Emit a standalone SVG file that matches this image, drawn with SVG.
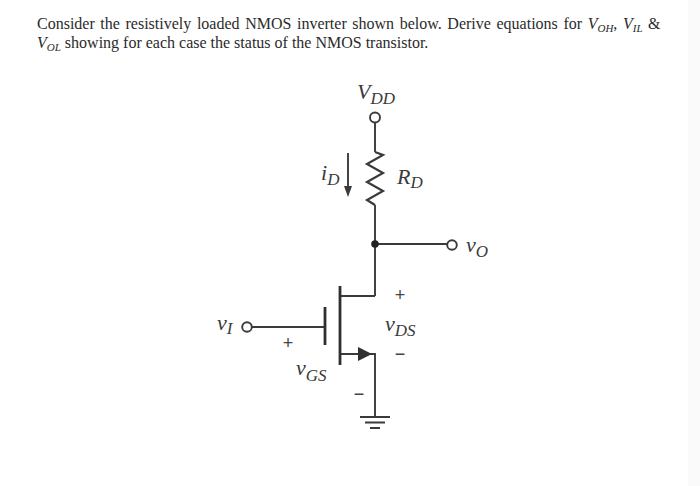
<svg xmlns="http://www.w3.org/2000/svg" width="700" height="486" viewBox="0 0 700 486">
<style>
.t{font-family:"Liberation Serif","Times New Roman",serif;fill:#2b2b2b}
.head{font-size:16px}
.i{font-style:italic}
.l{font-size:22px;font-style:italic;fill:#3a3a3a}
.s{font-size:17px;font-style:italic}
.hs{font-size:11px;font-style:italic}
.w{fill:none;stroke:#3a3a3a;stroke-width:1.9}
.r{fill:none;stroke:#3a3a3a;stroke-width:2.2}
.b{fill:none;stroke:#2f2f2f;stroke-width:2.8}
.o{fill:#fff;stroke:#3a3a3a;stroke-width:1.9}
.p{font-family:"Liberation Sans",Arial,sans-serif;font-size:18px;fill:#444;text-anchor:middle}
</style>
<rect width="700" height="486" fill="#fff"/>
<rect x="688" y="0" width="12" height="486" fill="#fafafa"/>
<g id="question">
<text class="t head" x="37" y="29" word-spacing="1.6">Consider the resistively loaded NMOS inverter shown below. Derive equations for <tspan class="i">V</tspan><tspan class="hs" dy="3">OH</tspan><tspan dy="-3">, </tspan><tspan class="i">V</tspan><tspan class="hs" dy="3">IL</tspan><tspan dy="-3"> &amp;</tspan></text>
<text class="t head" x="37" y="48"><tspan class="i">V</tspan><tspan class="hs" dy="3">OL</tspan><tspan dy="-3"> showing for each case the status of the NMOS transistor.</tspan></text>
</g>
<g id="connectors">
<path class="w" d="M375 123V152M375 205V296"/>
<path class="w" d="M375 244H447"/>
<path class="w" d="M340 296H375"/>
<path class="w" d="M252 327H325"/>
<path class="w" d="M340 354H375V417"/>
<path class="w" d="M348 153V188"/>
<path d="M344 186L348 197L352 186Z" fill="#3a3a3a"/>
<path d="M358 347L372 354L358 361Z" fill="#2f2f2f"/>
</g>
<g id="vdd"><circle class="o" cx="375" cy="117.500" r="5"/><text class="t l" x="357" y="99">V<tspan class="s" dy="5">DD</tspan></text></g>
<g id="rd"><path class="r" d="M375 152L383 155L367 164L383 173L367 182L383 191L367 200L375 205"/><text class="t l" x="397" y="184">R<tspan class="s" dy="4">D</tspan></text></g>
<g id="id-label"><text class="t l" x="321" y="180">i<tspan class="s" dy="5">D</tspan></text></g>
<g id="output"><circle cx="375" cy="244" r="3.800" fill="#222"/><circle class="o" cx="452" cy="245" r="4.800"/><text class="t l" x="466" y="252">v<tspan class="s" dy="5">O</tspan></text></g>
<g id="input"><circle class="o" cx="247" cy="327" r="4.800"/><text class="t l" x="217" y="330">v<tspan class="s" dy="4">I</tspan></text></g>
<g id="transistor"><path class="b" d="M325 307V345"/><path class="b" d="M340 286V365"/></g>
<g id="ground"><path class="w" stroke-width="2.200" d="M360 417H390M365 422.500H385M370 428H380"/></g>
<g id="vds"><text class="p" x="400" y="301">+</text><text class="t l" x="385" y="331">v<tspan class="s" dy="5">DS</tspan></text><text class="p" x="400" y="360">−</text></g>
<g id="vgs"><text class="p" x="288" y="349">+</text><text class="t l" x="296" y="375">v<tspan class="s" dy="6">GS</tspan></text><text class="p" x="359" y="400">−</text></g>
</svg>
